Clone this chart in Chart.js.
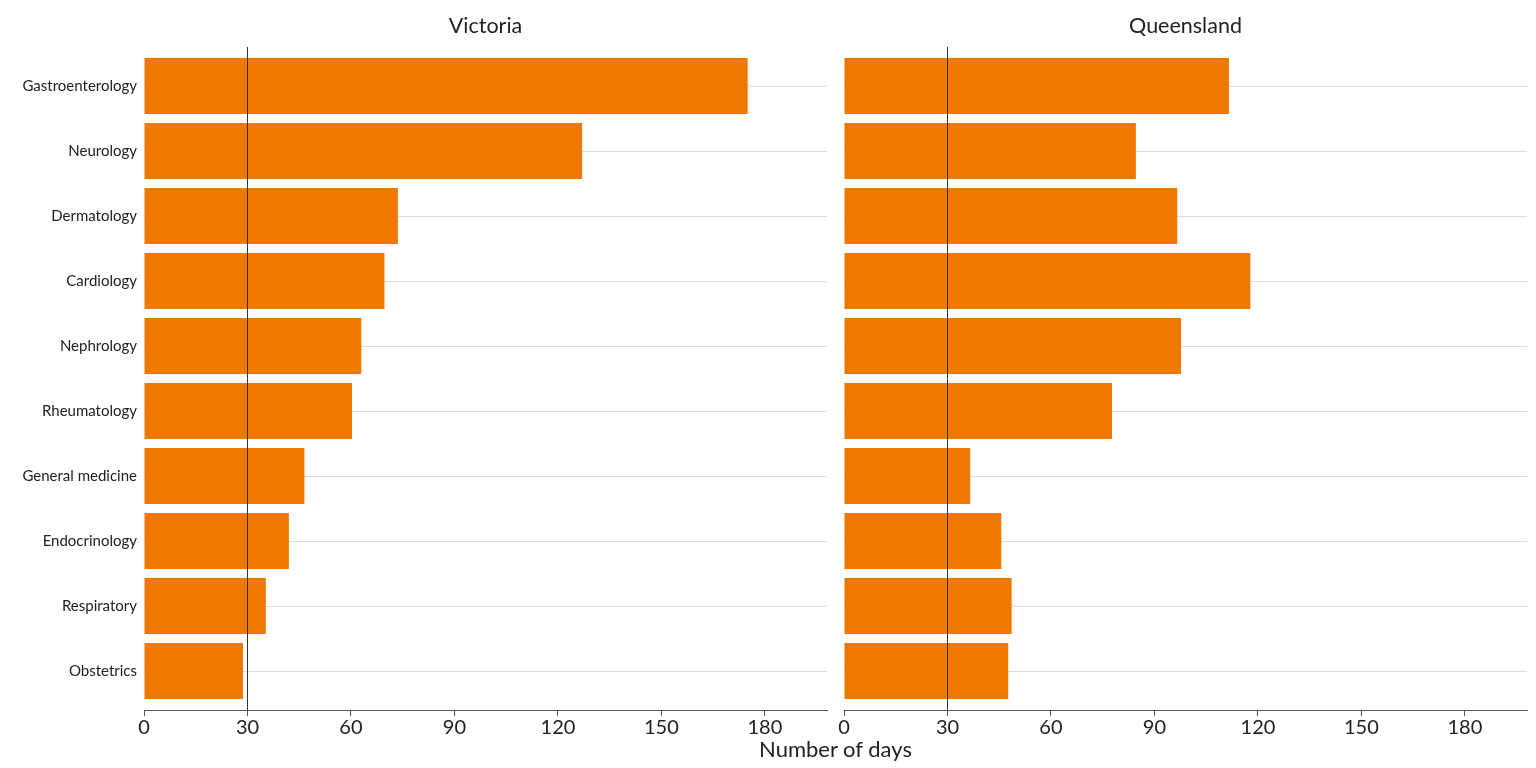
<!DOCTYPE html>
<html>
<head>
<meta charset="utf-8">
<script src="https://cdn.jsdelivr.net/npm/chart.js@4.4.0/dist/chart.umd.min.js"></script>
<style>
  body { margin: 0; background: #fff; }
  #wrap { position: relative; width: 1536px; height: 768px; overflow: hidden; font-family: 'Lato', sans-serif; color: #222; }
  canvas { position: absolute; top: 0; }
  .ttl { position: absolute; font-size: 21.5px; text-align: center; white-space: nowrap; line-height: 1; }
</style>
</head>
<body>
<div id="wrap">
  <canvas id="vic" width="836" height="768" style="left:0"></canvas>
  <canvas id="qld" width="700" height="768" style="left:836px"></canvas>
  <div class="ttl" style="left:144px; width:683px; top:15px;">Victoria</div>
  <div class="ttl" style="left:844px; width:683px; top:15px;">Queensland</div>
  <div class="ttl" style="left:144px; width:1383px; top:738px; font-size:22px;">Number of days</div>
</div>
<script>
/* datos */
const specialties = ['Gastroenterology', 'Neurology', 'Dermatology', 'Cardiology', 'Nephrology',
  'Rheumatology', 'General medicine', 'Endocrinology', 'Respiratory', 'Obstetrics'];
const victoriaDays = [175, 127, 73.6, 69.7, 63, 60.3, 46.5, 42, 35.3, 28.7];
const queenslandDays = [111.6, 84.6, 96.6, 117.8, 97.7, 77.7, 36.6, 45.6, 48.6, 47.6];
const dayTicks = [0, 30, 60, 90, 120, 150, 180];
const targetDays = 30;

const orange = 'rgb(239, 120, 0)';

/* linea vertical en 30 dias */
const targetLine = {
  id: 'targetLine',
  afterDatasetsDraw(chart) {
    const x = Math.round(chart.scales.x.getPixelForValue(targetDays)) + 0.5;
    const ctx = chart.ctx;
    ctx.save();
    ctx.strokeStyle = '#333';
    ctx.lineWidth = 1;
    ctx.beginPath();
    ctx.moveTo(x, chart.chartArea.top);
    ctx.lineTo(x, chart.chartArea.bottom);
    ctx.stroke();
    ctx.restore();
  }
};

let makePanel = (id, values, showLabels) => {
  const ctx = document.getElementById(id);
  const config = {
    type: 'bar',
    data: {
      datasets: [{
        data: values.map((v, i) => ({ x: v, y: i })),
        backgroundColor: orange,
        borderWidth: 0,
        categoryPercentage: 1,
        barPercentage: 0.862
      }]
    },
    options: {
      indexAxis: 'y',
      responsive: false,
      animation: false,
      layout: { padding: { top: 47, right: 9, bottom: 18, left: showLabels ? 0 : 8 } },
      plugins: { legend: { display: false }, tooltip: { enabled: false } },
      scales: {
        x: {
          type: 'linear',
          min: 0,
          max: 198,
          afterBuildTicks: (scale) => { scale.ticks = dayTicks.map(v => ({ value: v })); },
          afterFit: (scale) => { scale.height = 40; },
          border: { display: true, color: '#555', width: 1 },
          grid: { display: true, drawOnChartArea: false, drawTicks: true, tickLength: 6, tickColor: '#555' },
          ticks: { font: { family: 'Lato', size: 20 }, color: '#222', padding: 0, maxRotation: 0 }
        },
        y: {
          type: 'linear',
          reverse: true,
          offset: false,
          min: -0.6,
          max: 9.6,
          afterBuildTicks: (scale) => { scale.ticks = specialties.map((s, i) => ({ value: i })); },
          afterFit: (scale) => { scale.width = showLabels ? 144 : 0; },
          border: { display: false },
          grid: { offset: false, color: '#dcdcdc', lineWidth: 1, drawTicks: false },
          ticks: {
            display: showLabels,
            padding: 7,
            font: { family: 'Lato', size: 15 },
            color: '#222',
            callback: (v) => specialties[v]
          }
        }
      }
    },
    plugins: [targetLine]
  };
  return new Chart(ctx, config);
};

makePanel('vic', victoriaDays, true);
makePanel('qld', queenslandDays, false);
</script>
</body>
</html>
